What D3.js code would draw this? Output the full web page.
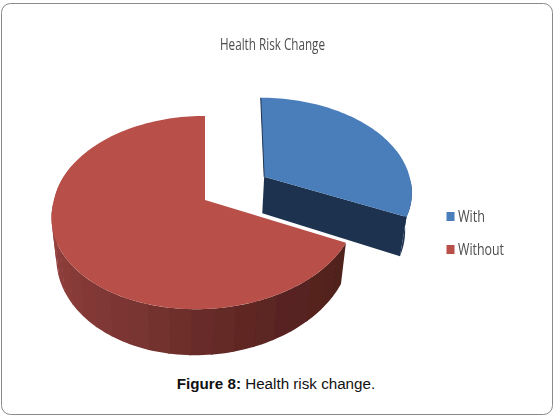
<!DOCTYPE html>
<html><head><meta charset="utf-8">
<script src="https://cdn.jsdelivr.net/npm/d3@7/dist/d3.min.js"></script>
<style>html,body{margin:0;padding:0;background:#fff}svg{display:block}</style>
</head><body><svg id="c" width="554" height="416"></svg>
<script>
const categories = ["With", "Without"];
const values = [32, 68];
const colors = ["#4a7ebb", "#b9504a"];
const sideColors = ["#1f3350", "#7a3532"];
const redWallStops = ["#4e1f1c", "#5c2523", "#7a3532", "#8f3f3b", "#a04a46"];
const chartTitle = "Health Risk Change";
const captionBold = "Figure 8:";
const captionText = " Health risk change.";
const explode = [0.47, 0];
const radiusX = [0.975, 0.98];

const svg = d3.select("#c");
const defs = svg.append("defs");
defs.append("filter").attr("id","soft").append("feGaussianBlur").attr("stdDeviation",0.55);
defs.append("filter").attr("id","edge").append("feGaussianBlur").attr("stdDeviation",0.4);

svg.append("rect").attr("x",1.5).attr("y",3.5).attr("width",551).attr("height",411).attr("rx",9)
  .attr("fill","#fff").attr("stroke","#8a8a8a").attr("stroke-width",1);

// perspective projection of the pie's disc
const cx=205, cy=200, p=0.13;
const sx=d3.scaleLinear().domain([0,1]).range([0,154]);
const sy=d3.scaleLinear().domain([0,1]).range([0,95]);
const bx=d3.scaleLinear().domain([0,1]).range([0,149]);
const by=d3.scaleLinear().domain([0,1]).range([0,102]);
const depth=38;
const top3=(u,v)=>[cx+sx(u)/(1+p*v), cy-sy(v)/(1+p*v)];
const bot3=(u,v)=>[cx+bx(u)/(1+p*v), cy+depth-by(v)/(1+p*v)];
const pie=d3.pie().sort(null).value(d=>d);
const arcs=pie(values);
const line=d3.line();
function off(d,i){const mid=(d.startAngle+d.endAngle)/2;return [explode[i]*Math.sin(mid),explode[i]*Math.cos(mid)];}
// slight lean of the drawing: the red slice leans left below its apex, the blue one right above it
function lean(q,ref,i){
  const dy=q[1]-ref[1];
  const dx=i===1?(dy>0?-0.085*dy:0):(dy<0?-0.04*dy:0);
  return [q[0]+dx,q[1]];
}
function pts(d,i,proj,a0,a1){
  const [ox,oy]=off(d,i);
  const ref=proj(ox,oy);
  const n=Math.max(2,Math.ceil((a1-a0)/0.03));
  return d3.range(n+1).map(k=>{const a=a0+(a1-a0)*k/n;
    return lean(proj(ox+radiusX[i]*Math.sin(a),oy+Math.cos(a)),ref,i);});
}
function apex(d,i,proj){const [ox,oy]=off(d,i);return proj(ox,oy);}
const g=svg.append("g").attr("filter","url(#edge)");

// red slice: wall facets then top
{
  const d=arcs[1], i=1;
  const wallEnd=Math.PI*1.62;
  const col=d3.scaleLinear().domain(d3.range(redWallStops.length).map(k=>d.startAngle+(wallEnd-d.startAngle)*k/(redWallStops.length-1))).range(redWallStops);
  const n=24, step=(wallEnd-d.startAngle)/n;
  d3.range(n).forEach(k=>{
    const a=d.startAngle+k*step, b=a+step+0.01;
    const t=pts(d,i,top3,a,b), bt=pts(d,i,bot3,a,b).reverse();
    g.append("path").attr("d",line(t.concat(bt))+"Z").attr("fill",col(a+step/2));
  });
  g.append("path").attr("d",line([apex(d,i,top3)].concat(pts(d,i,top3,d.startAngle,d.endAngle)))+"Z").attr("fill",colors[i]);
}
// blue slice
{
  const d=arcs[0], i=0;
  const endT=pts(d,i,top3,d.endAngle,d.endAngle+0.001)[0], endB=pts(d,i,bot3,d.endAngle,d.endAngle+0.001)[0];
  const apT=apex(d,i,top3), apB=apex(d,i,bot3);
  g.append("path").attr("d",line([apT,endT,endB,apB])+"Z").attr("fill",sideColors[i]);
  const rimA=d.endAngle-0.4;
  g.append("path").attr("d",line(pts(d,i,top3,rimA,d.endAngle).concat(pts(d,i,bot3,rimA,d.endAngle).reverse()))+"Z").attr("fill",sideColors[i]);
  g.append("path").attr("d",line([apT].concat(pts(d,i,top3,d.startAngle,d.endAngle)))+"Z").attr("fill",colors[i]);
  const st=pts(d,i,top3,d.startAngle,d.startAngle+0.001)[0];
  g.append("path").attr("d",line([st,apT])).attr("fill","none").attr("stroke",sideColors[i]).attr("stroke-width",1);
}

const soft=svg.append("g").attr("filter","url(#soft)").attr("font-family","'Open Sans','Noto Sans',sans-serif").attr("fill","#4d4d4d");
soft.append("text").attr("x",272.5).attr("y",50).attr("text-anchor","middle").attr("font-size",16)
  .attr("textLength",105).attr("lengthAdjust","spacingAndGlyphs").text(chartTitle);
const legendY=d3.scalePoint().domain(categories).range([216.5,249.5]);
const legendW=d3.scaleOrdinal().domain(categories).range([27,46]);
categories.forEach((c,i)=>{
  soft.append("rect").attr("x",446.5).attr("y",legendY(c)-4.5).attr("width",8).attr("height",9).attr("fill",colors[i]);
  soft.append("text").attr("x",458).attr("y",legendY(c)+5).attr("font-size",16)
    .attr("textLength",legendW(c)).attr("lengthAdjust","spacingAndGlyphs").text(c);
});

const cap=svg.append("text").attr("x",276).attr("y",389).attr("text-anchor","middle")
  .attr("font-family","'Liberation Sans',Arial,sans-serif").attr("font-size",15.2).attr("fill","#111");
cap.append("tspan").attr("font-weight","bold").text(captionBold);
cap.append("tspan").text(captionText);
</script></body></html>
